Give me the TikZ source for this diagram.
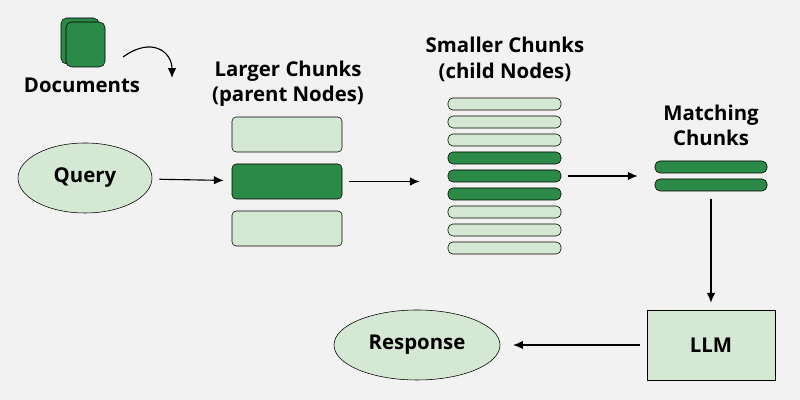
\documentclass[tikz,border=0pt]{standalone}
\usepackage{fontspec}
\setmainfont{Open Sans}
\usetikzlibrary{shapes.geometric, arrows.meta, positioning, fit}
\definecolor{bgcol}{HTML}{F2F2F2}
\definecolor{lightg}{HTML}{D5E8D4}
\definecolor{darkg}{HTML}{2B8A47}
\begin{document}
\begin{tikzpicture}[
    font=\fontsize{14.5}{18}\selectfont\bfseries,
    oval/.style={ellipse, draw, fill=lightg, minimum width=3.35cm, minimum height=1.75cm},
    bigchunk/.style={rectangle, draw, rounded corners=3pt, minimum width=2.75cm, minimum height=0.875cm},
    smallchunk/.style={rectangle, draw, rounded corners=3.5pt, minimum width=2.825cm, minimum height=0.3cm, inner sep=0pt},
    label/.style={align=center, inner sep=0pt},
    arrow/.style={-{Latex[length=7pt, width=6pt]}, thick, shorten <=5pt, shorten >=5pt}
]
    \fill[bgcol] (0,0) rectangle (20,10);
    % documents icon
    \draw[fill=darkg, rounded corners=4pt] (1.525,8.4) rectangle (2.475,9.55);
    \draw[fill=darkg, rounded corners=4pt] (1.65,8.325) rectangle (2.625,9.45);
    \node[label] (docs) at (2.05,7.875) {Documents};
    \coordinate (curvestart) at (3.075,8.575);
    \coordinate (curveend) at (4.3,8.05);
    \draw[-{Latex[length=7pt, width=6pt]}, thick] (curvestart) .. controls (3.8,9.1) and (4.3,8.7) .. (curveend);

    \node[oval] (query) at (2.125,5.55) {Query};

    % larger chunks
    \node[label] (largetitle) at (7.2,7.9125) {Larger Chunks\\(parent Nodes)};
    \node[bigchunk, fill=lightg] (big1) at (7.175,6.6375) {};
    \node[bigchunk, fill=darkg] (big2) at (7.175,5.4625) {};
    \node[bigchunk, fill=lightg] (big3) at (7.175,4.2875) {};

    % smaller chunks
    \node[label] (smalltitle) at (12.625,8.5125) {Smaller Chunks\\(child Nodes)};
    \foreach \i in {1,...,9} {
        \ifnum\i>3 \ifnum\i<7 \def\col{darkg}\else\def\col{lightg}\fi \else\def\col{lightg}\fi
        \node[smallchunk, fill=\col] (small\i) at (12.6125,{7.4-0.45*(\i-1)}) {};
    }

    % matching chunks
    \node[label] (matchtitle) at (17.775,6.8625) {Matching\\Chunks};
    \node[smallchunk, fill=darkg, minimum width=2.8cm] (match1) at (17.775,5.825) {};
    \node[smallchunk, fill=darkg, minimum width=2.8cm] (match2) at (17.775,5.375) {};
    \node[fit=(match1)(match2), inner sep=0pt] (match) {};

    \node[rectangle, draw, fill=lightg, minimum width=3.2cm, minimum height=1.75cm] (llm) at (17.775,1.375) {LLM};
    \node[oval, minimum width=4.15cm] (response) at (10.425,1.375) {Response};

    \draw[arrow, shorten >=0.2cm] (query) -- (big2);
    \draw[arrow, shorten >=0.7cm] (big2) -- (big2 -| small5.west);
    \draw[arrow, shorten >=0.42cm] (small5.east |- match) -- (match);
    \draw[arrow] (match) -- (llm);
    \draw[arrow, shorten >=0.32cm] (llm) -- (response);
\end{tikzpicture}
\end{document}
